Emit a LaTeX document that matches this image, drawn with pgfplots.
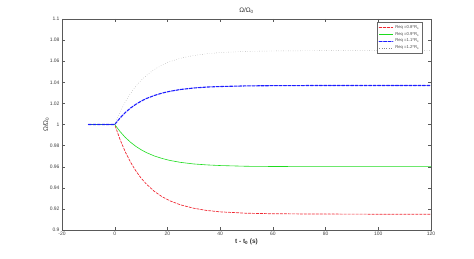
\documentclass[border=0pt]{standalone}
\usepackage{pgfplots}
\pgfplotsset{compat=1.18}
\usepackage{fontspec}
\setmainfont{Liberation Sans}
\definecolor{mblue}{RGB}{30,30,255}
\definecolor{mred}{RGB}{240,40,50}
\definecolor{mgreen}{RGB}{30,220,30}
\begin{document}
\begin{tikzpicture}
\begin{axis}[
  scale only axis,
  width=369bp, height=211bp,
  xmin=-20, xmax=120, ymin=0.9, ymax=1.1,
  xtick={-20,0,20,40,60,80,100,120},
  ytick={0.9,0.92,0.94,0.96,0.98,1,1.02,1.04,1.06,1.08,1.1},
  yticklabels={0.9,0.92,0.94,0.96,0.98,1,1.02,1.04,1.06,1.08,1.1},
  tick align=inside,
  major tick length=3bp,
  axis line style={black!65, line width=0.4pt},
  tick style={black!65, line width=0.4pt},
  tick label style={font=\fontsize{5}{6}\selectfont, text=black!75},
  /pgf/number format/assume math mode=true,
  xticklabel style={yshift=1bp},
  yticklabel style={xshift=1bp},
  title={Ω/Ω\textsubscript{0}},
  title style={font=\fontsize{6.5}{7}\selectfont, text=black!80, yshift=-4bp},
  xlabel={\textbf{t - t\textsubscript{0} (s)}},
  xlabel style={font=\fontsize{6.5}{7}\selectfont, text=black!80, yshift=4bp},
  ylabel={Ω/Ω\textsubscript{0}},
  ylabel style={font=\fontsize{6.5}{7}\selectfont, text=black!80, yshift=-6bp},
  legend style={at={(0.976,0.985)}, anchor=north east, font=\fontsize{4.2}{5}\selectfont,
    draw=black!60, line width=0.3pt, inner sep=1pt, row sep=-1.5pt, text=black!70},
  legend cell align=left,
  legend image post style={scale=0.8},
]
\addplot[mred, dash pattern=on 2.5pt off 1.5pt, line width=0.7pt, line cap=round] coordinates {
(-10,1)(0,1)(2,0.9859)(4,0.9741)(6,0.9643)(8,0.9561)(10,0.9492)(12,0.9436)(15,0.9367)(18,0.9315)(21,0.9276)(25,0.9238)(30,0.9206)(35,0.9185)(40,0.9172)(50,0.9159)(60,0.9154)(80,0.9151)(100,0.915)(120,0.915)};
\addlegendentry{Req =0.8*R\textsubscript{s}}
\addplot[mgreen, solid, line width=0.6pt] coordinates {
(-10,1)(0,1)(2,0.9934)(4,0.9878)(6,0.9832)(8,0.9793)(10,0.9761)(12,0.9734)(15,0.9702)(18,0.9678)(21,0.9659)(25,0.9641)(30,0.9626)(35,0.9617)(40,0.9611)(50,0.9604)(60,0.9602)(80,0.96)(100,0.96)(120,0.96)};
\addlegendentry{Req =0.9*R\textsubscript{s}}
\addplot[mblue, dash pattern=on 3pt off 1.5pt, line width=1.1pt, line cap=round] coordinates {
(-10,1)(0,1)(2,1.0061)(4,1.0113)(6,1.0156)(8,1.0191)(10,1.0221)(12,1.0246)(15,1.0275)(18,1.0298)(21,1.0315)(25,1.0332)(30,1.0346)(35,1.0355)(40,1.036)(50,1.0366)(60,1.0368)(80,1.037)(100,1.037)(120,1.037)};
\addlegendentry{Req =1.1*R\textsubscript{s}}
\addplot[black!45, dotted, line width=0.4pt] coordinates {
(0,1)(2,1.0116)(4,1.0213)(6,1.0294)(8,1.0362)(10,1.0418)(12,1.0465)(15,1.0521)(18,1.0564)(21,1.0596)(25,1.0628)(30,1.0654)(35,1.0671)(40,1.0682)(50,1.0693)(60,1.0697)(80,1.07)(100,1.07)(120,1.07)};
\addlegendentry{Req =1.2*R\textsubscript{s}}
\end{axis}
\pgfresetboundingbox
\path[use as bounding box] ([xshift=-62bp,yshift=-29bp]current axis.south west) rectangle ([xshift=43bp,yshift=19bp]current axis.north east);
\end{tikzpicture}
\end{document}
